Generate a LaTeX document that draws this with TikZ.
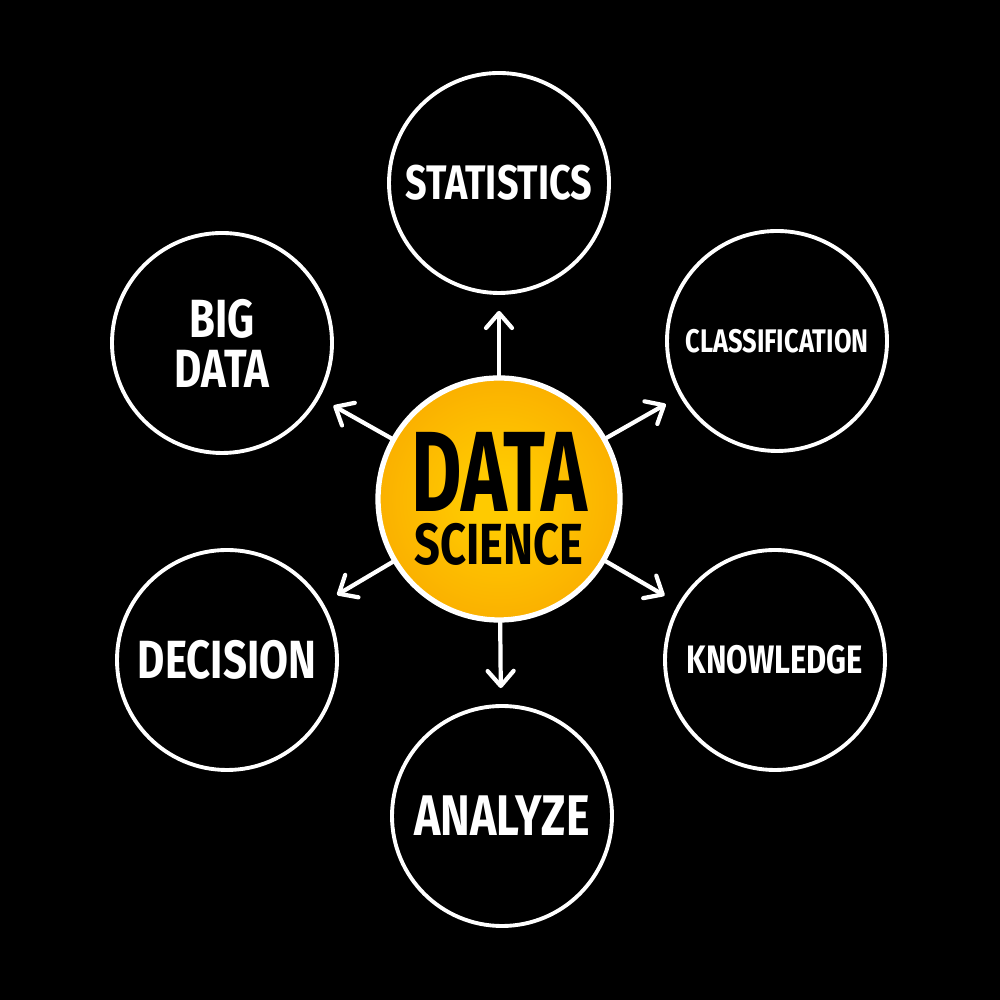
\documentclass[tikz,border=0pt]{standalone}
\usepackage{fontspec}
\newfontfamily\handfont[FakeStretch=0.78]{Fira Sans}
\newfontfamily\handnarrow[FakeStretch=0.68]{Fira Sans}
\usetikzlibrary{arrows.meta}
\definecolor{coreyellow}{RGB}{255,202,0}
\definecolor{coregold}{RGB}{251,178,0}
\definecolor{coreorange}{RGB}{245,155,0}
\pgfdeclareradialshading{coreglow}{\pgfpoint{0bp}{0bp}}{%
  color(0bp)=(coreyellow); color(6bp)=(coreyellow); color(24bp)=(coregold);%
  color(45bp)=(coreorange); color(50bp)=(coreorange)}
\tikzset{%
  topic/.style = {shape=circle, draw=white, line width=1.1pt,%
                  fill=black, minimum size=2.2cm, inner sep=0pt,%
                  align=center, text=white, font=\handfont\bfseries},%
  core/.style  = {topic, line width=1.5pt, shading=coreglow,%
                  minimum size=2.42cm, text=black},%
  spoke/.style = {draw=white, line width=1.2pt, line cap=round,%
                  -{Straight Barb[length=1.5mm,width=2.6mm,round]},%
                  shorten >=0.16cm}%
}
\begin{document}
\begin{tikzpicture}
	\fill[black] (0,0) rectangle (10,10);
	\useasboundingbox (0,0) rectangle (10,10);
	\node [core, font=\handnarrow\bfseries\fontsize{32.5}{32}\selectfont] (datasci) at (4.99,5.01)
		{DATA\\[-17pt]{\handfont\bfseries\fontsize{16.5}{12.6}\selectfont SCIENCE}};
	\node [topic] (stat) at (4.99,8.17) {\fontsize{13.8}{14}\selectfont STATISTICS};
	\node [topic] (classif) at (7.77,6.59) {\fontsize{9.3}{10}\selectfont CLASSIFICATION};
	\node [topic] (knowl) at (7.75,3.40) {\fontsize{11.3}{12}\selectfont KNOWLEDGE};
	\node [topic] (analyze) at (5.02,1.84) {\fontsize{16.3}{16}\selectfont ANALYZE};
	\node [topic] (decision) at (2.27,3.40) {\fontsize{15.3}{16}\selectfont DECISION};
	\node [topic, font=\handfont\bfseries\fontsize{15.3}{14.2}\selectfont] (bigdata) at (2.22,6.57)
		{BIG\\DATA};
	\foreach \target in {stat,classif,knowl,analyze,decision,bigdata}
		\draw [spoke] (datasci) -- (\target);
\end{tikzpicture}
\end{document}
